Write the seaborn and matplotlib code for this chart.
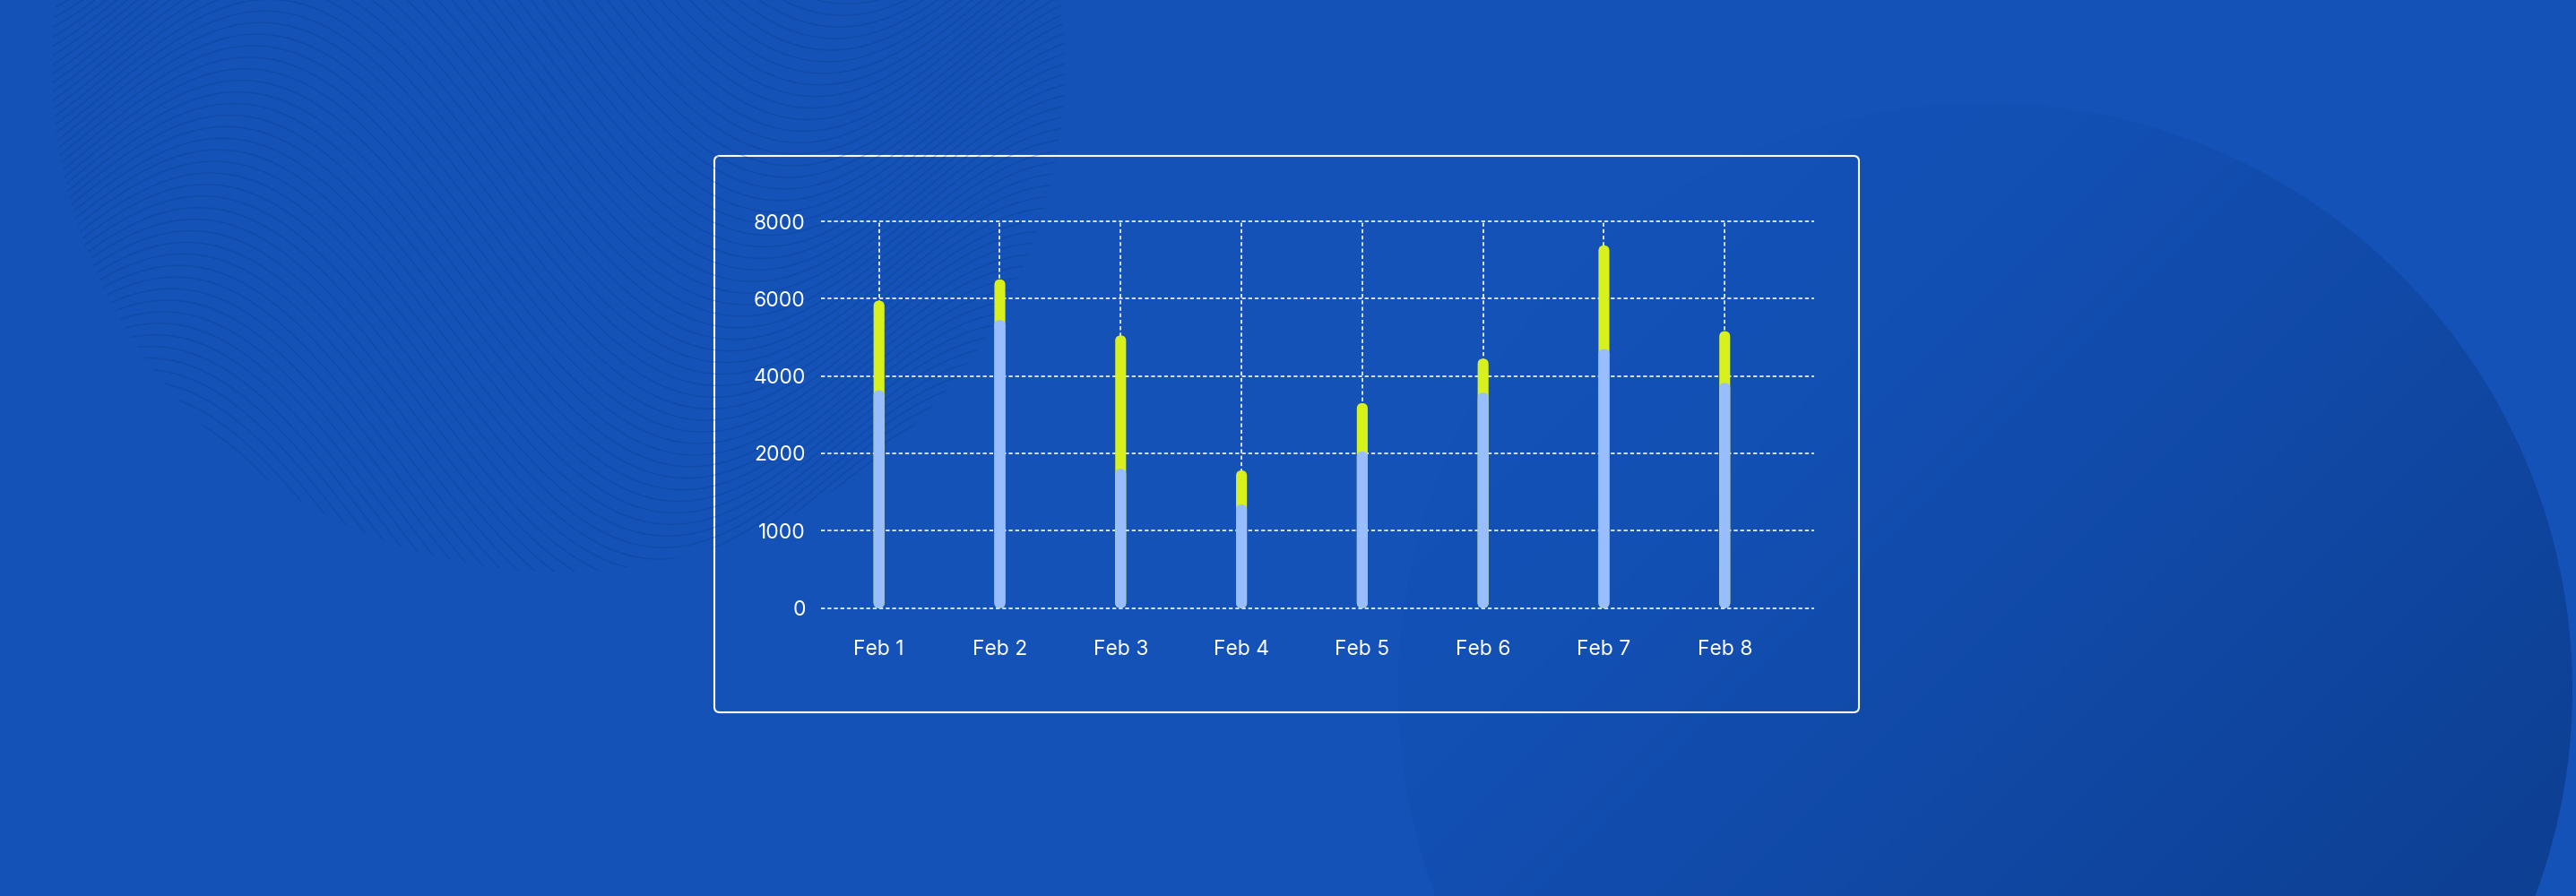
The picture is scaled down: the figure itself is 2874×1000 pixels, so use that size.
import numpy as np
import matplotlib
matplotlib.use("Agg")
import matplotlib.pyplot as plt
import seaborn as sns
from matplotlib.patches import FancyBboxPatch, Circle
from matplotlib.colors import LinearSegmentedColormap
from matplotlib.transforms import IdentityTransform

# ---- data ----
dates = ["Feb 1", "Feb 2", "Feb 3", "Feb 4", "Feb 5", "Feb 6", "Feb 7", "Feb 8"]
base_values = [3630, 5450, 1800, 1340, 2050, 3570, 4700, 3825]   # light blue part
extra_values = [2320, 1050, 3250, 440, 1250, 880, 2680, 1335]    # yellow part on top
y_ticks = [0, 1000, 2000, 4000, 6000, 8000]
y_tick_labels = ["0", "1000", "2000", "4000", "6000", "8000"]

totals = [b + e for b, e in zip(base_values, extra_values)]

BG = "#1452B8"
YELLOW = "#D8F01C"
LIGHT_BLUE = "#99BEFF"

W, H, DPI = 2874, 1000, 100

sns.set_style("white")
plt.rcParams["font.family"] = ["Inter", "DejaVu Sans"]
plt.rcParams["lines.scale_dashes"] = False

fig = plt.figure(figsize=(W / DPI, H / DPI), dpi=DPI, facecolor=BG)

# ---- decorative background (pixel coordinates) ----
bg = fig.add_axes([0, 0, 1, 1], zorder=-5)
bg.set_facecolor(BG)

# wavy line disc, top left
cx, cy, r = 623, 73, 565
disc = Circle((cx, cy), r, transform=bg.transData)
xx = np.linspace(cx - r, cx + r, 600)
for k in range(150):
    c = cy - r - 500 + k * 14
    yy = c + 150 * np.sin((xx - cx) / 140 + c / 450) + 0.25 * (xx - cx)
    ln, = bg.plot(xx, yy, color="#0B3A88", lw=1.1, alpha=0.3)
    ln.set_clip_path(disc)

# darker gradient disc, bottom right
rcx, rcy, rr = 2215, 770, 655
xs = np.linspace(rcx - rr, rcx + rr, 300)
ys = np.linspace(rcy - rr, rcy + rr, 300)
X, Y = np.meshgrid(xs, ys)
t = ((X - (rcx - rr)) + (Y - (rcy - rr))) / (4 * rr)
cmap = LinearSegmentedColormap.from_list(
    "disc", [(0, "#1553BA"), (0.3, "#1350B4"), (1, "#0B3A88")])
im = bg.imshow(t, extent=(rcx - rr, rcx + rr, rcy + rr, rcy - rr),
               cmap=cmap, vmin=0, vmax=1, origin="upper", aspect="auto")
im.set_clip_path(Circle((rcx, rcy), rr, transform=bg.transData))

# chart panel frame
bg.add_patch(FancyBboxPatch((797, 174), 2074 - 797, 795 - 174,
                            boxstyle="round,pad=0,rounding_size=6",
                            fill=False, ec="white", lw=1.5))
bg.set_xlim(0, W)
bg.set_ylim(H, 0)
bg.axis("off")

# ---- chart ----
ax = fig.add_axes([916 / W, (H - 678.6) / H, (2024 - 916) / W, (678.6 - 247.1) / H])
ax.set_facecolor("none")

tick_pos = np.arange(len(y_ticks), dtype=float)


def fwd(v):
    v = np.asarray(v, dtype=float)
    out = np.interp(v, y_ticks, tick_pos)
    out = np.where(v < y_ticks[0], (v - y_ticks[0]) / (y_ticks[1] - y_ticks[0]), out)
    out = np.where(v > y_ticks[-1],
                   tick_pos[-1] + (v - y_ticks[-1]) / (y_ticks[-1] - y_ticks[-2]), out)
    return out


def inv(p):
    p = np.asarray(p, dtype=float)
    out = np.interp(p, tick_pos, y_ticks)
    out = np.where(p < 0, y_ticks[0] + p * (y_ticks[1] - y_ticks[0]), out)
    out = np.where(p > tick_pos[-1],
                   y_ticks[-1] + (p - tick_pos[-1]) * (y_ticks[-1] - y_ticks[-2]), out)
    return out


ax.set_yscale("function", functions=(fwd, inv))

sns.barplot(x=dates, y=totals, color=YELLOW, saturation=1, width=0.09, ax=ax)
sns.barplot(x=dates, y=base_values, color=LIGHT_BLUE, saturation=1, width=0.09, ax=ax)

ax.set_xlim(-0.48, 7.74)
ax.set_ylim(0, 8000)
ax.set_yticks(y_ticks)
ax.set_yticklabels(y_tick_labels)
ax.set_xlabel("")
ax.set_ylabel("")

# turn the square bars into pill shapes
for p in list(ax.patches):
    (dx0, dy0), (dx1, dy1) = ax.transData.transform(
        [(p.get_x(), p.get_y()), (p.get_x() + p.get_width(), p.get_y() + p.get_height())])
    fc = p.get_facecolor()
    p.remove()
    w = dx1 - dx0
    pill = FancyBboxPatch((dx0, dy0), w, dy1 - dy0,
                          boxstyle=f"round,pad=0,rounding_size={w / 2}",
                          transform=IdentityTransform(), fc=fc, ec="none",
                          clip_on=False, zorder=2)
    ax.add_patch(pill)

ax.set_axisbelow(True)
ax.grid(True, axis="both", color="white", lw=1.3, linestyle=(0, (3.1, 2.1)), alpha=0.9)
for gl in ax.get_xgridlines() + ax.get_ygridlines():
    gl.set_clip_on(False)

sns.despine(ax=ax, left=True, bottom=True)
ax.tick_params(axis="y", length=0, pad=12.5, labelsize=16.5, labelcolor="white")
ax.tick_params(axis="x", length=0, pad=25.5, labelsize=16.5, labelcolor="white")

fig.savefig("out.png", dpi=DPI, facecolor=BG)
